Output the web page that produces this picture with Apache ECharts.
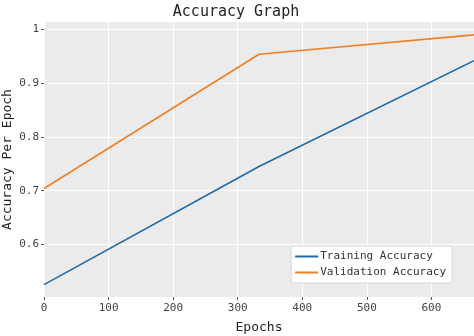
<!DOCTYPE html>
<html><head><meta charset="utf-8">
<script src="https://cdn.jsdelivr.net/npm/echarts@6/dist/echarts.min.js"></script>
<style>html,body{margin:0;padding:0;background:#fff}#c{width:474px;height:336px}</style>
</head><body><div id="c"></div>
<script>
const epochs = [0, 333, 666];
const trainingAcc = [0.525, 0.745, 0.942];
const validationAcc = [0.704, 0.954, 0.990];
const yTicks = [0.6, 0.7, 0.8, 0.9, 1.0];
const seriesNames = ['Training Accuracy', 'Validation Accuracy'];
const titleText = 'Accuracy Graph';
const xName = 'Epochs';
const yName = 'Accuracy Per Epoch';

const font = 'DejaVu Sans Mono';
const chart = echarts.init(document.getElementById('c'), null, {renderer: 'canvas'});
const pairs = a => epochs.map((e, i) => [e, a[i]]);
chart.setOption({
  animation: false,
  title: {text: titleText, left: 231, textAlign: 'center', top: 0,
    textStyle: {fontFamily: font, fontSize: 15, fontWeight: 'normal', color: '#222'}},
  grid: {left: 44, right: 0, top: 22, bottom: 39, show: true, backgroundColor: '#ebebeb', borderWidth: 0,
    containLabel: false, outerBoundsMode: 'none'},
  legend: {
    orient: 'vertical', right: 22, bottom: 53, backgroundColor: '#fff', borderColor: '#d8d8d8', borderWidth: 1,
    borderRadius: 2, padding: [5, 6, 5, 4], itemGap: 5, itemWidth: 23, itemHeight: 2,
    icon: 'rect', data: seriesNames,
    textStyle: {fontFamily: font, fontSize: 11, color: '#333', padding: [0, 0, 0, -3]}
  },
  xAxis: {
    type: 'value', min: 0, max: 666, interval: 100,
    name: xName, nameLocation: 'middle', nameGap: 24, nameMoveOverlap: false,
    nameTextStyle: {fontFamily: font, fontSize: 13, color: '#222'},
    axisLine: {show: false},
    axisTick: {show: true, length: 3, lineStyle: {color: '#555'}},
    axisLabel: {fontFamily: font, fontSize: 11, color: '#444', margin: 6, showMaxLabel: false},
    splitLine: {show: true, lineStyle: {color: '#fff', width: 1}}
  },
  yAxis: {
    type: 'value', min: 0.502, max: 1.014,
    name: yName, nameLocation: 'middle', nameGap: 30, nameRotate: 90, nameMoveOverlap: false,
    nameTextStyle: {fontFamily: font, fontSize: 13, color: '#222'},
    axisLine: {show: false},
    axisTick: {show: true, length: 3, lineStyle: {color: '#555'}, customValues: yTicks},
    axisLabel: {fontFamily: font, fontSize: 11, color: '#444', margin: 5, customValues: yTicks,
      formatter: v => (Math.abs(v - 1) < 1e-9 ? '1' : String(+v.toFixed(1)))},
    splitLine: {show: true, lineStyle: {color: '#fff', width: 1}}
  },
  series: [
    {name: seriesNames[0], type: 'line', data: pairs(trainingAcc), showSymbol: false,
      lineStyle: {color: '#1f69a8', width: 1.6}, itemStyle: {color: '#1f69a8'}},
    {name: seriesNames[1], type: 'line', data: pairs(validationAcc), showSymbol: false,
      lineStyle: {color: '#f07f24', width: 1.6}, itemStyle: {color: '#f07f24'}}
  ]
});
</script></body></html>
